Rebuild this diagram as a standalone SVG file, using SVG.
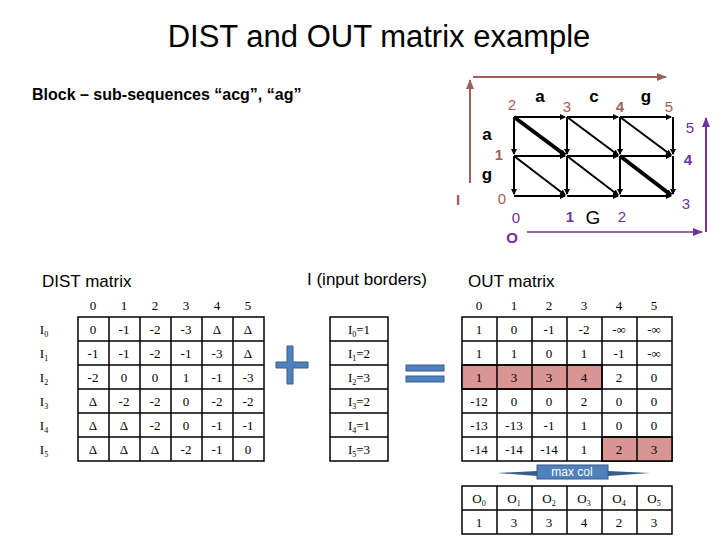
<svg xmlns="http://www.w3.org/2000/svg" width="720" height="540" viewBox="0 0 720 540">
<style>
.t{font-family:"Liberation Serif",serif;font-size:13px;text-anchor:middle}
.c{fill:#fff;stroke:#000;stroke-width:1.5}
.h{fill:#d99594;stroke:#000;stroke-width:1.5}
.g{stroke:#000;stroke-width:2;marker-end:url(#ah)}
.gb{stroke:#000;stroke-width:4;marker-end:url(#ah)}
.br{fill:#a0605a;font-family:"Liberation Sans",sans-serif;font-size:15px;text-anchor:middle}
.pu{fill:#7030a0;font-family:"Liberation Sans",sans-serif;font-size:15px;text-anchor:middle}
.lb{font-family:"Liberation Sans",sans-serif;font-weight:bold;font-size:17px;text-anchor:middle}
.hd{font-family:"Liberation Sans",sans-serif;font-size:17px}
</style>
<defs>
<marker id="ah" markerWidth="6" markerHeight="6" refX="5" refY="3" orient="auto" markerUnits="userSpaceOnUse" viewBox="0 0 6 6"><path d="M0,0L6,3L0,6z"/></marker>
<marker id="ab" markerWidth="10" markerHeight="8" refX="9" refY="4" orient="auto" markerUnits="userSpaceOnUse"><path d="M0,0L10,4L0,8z" fill="#a0605a"/></marker>
<marker id="ap" markerWidth="10" markerHeight="8" refX="9" refY="4" orient="auto" markerUnits="userSpaceOnUse"><path d="M0,0L10,4L0,8z" fill="#7030a0"/></marker>
</defs>
<rect width="720" height="540" fill="#fff"/>
<text x="379" y="47" font-family="Liberation Sans,sans-serif" font-size="31" text-anchor="middle">DIST and OUT matrix example</text>
<text x="32" y="100" font-family="Liberation Sans,sans-serif" font-size="16" font-weight="bold">Block – sub-sequences “acg”, “ag”</text>

<g id="grid">
<g id="connectors">
<line class="g" x1="514" y1="117" x2="565" y2="117"/><line class="g" x1="567" y1="117" x2="618" y2="117"/><line class="g" x1="620" y1="117" x2="671" y2="117"/>
<line class="g" x1="514" y1="156" x2="565" y2="156"/><line class="g" x1="567" y1="156" x2="618" y2="156"/><line class="g" x1="620" y1="156" x2="671" y2="156"/>
<line class="g" x1="514" y1="196" x2="565" y2="196"/><line class="g" x1="567" y1="196" x2="618" y2="196"/><line class="g" x1="620" y1="196" x2="671" y2="196"/>
<line class="g" x1="514" y1="117" x2="514" y2="154"/><line class="g" x1="567" y1="117" x2="567" y2="154"/><line class="g" x1="620" y1="117" x2="620" y2="154"/><line class="g" x1="673" y1="117" x2="673" y2="154"/>
<line class="g" x1="514" y1="156" x2="514" y2="194"/><line class="g" x1="567" y1="156" x2="567" y2="194"/><line class="g" x1="620" y1="156" x2="620" y2="194"/><line class="g" x1="673" y1="156" x2="673" y2="194"/>
<line class="gb" x1="514" y1="117" x2="565" y2="155"/><line class="g" x1="567" y1="117" x2="618" y2="155"/><line class="g" x1="620" y1="117" x2="671" y2="155"/>
<line class="g" x1="514" y1="156" x2="565" y2="195"/><line class="g" x1="567" y1="156" x2="618" y2="195"/><line class="gb" x1="620" y1="156" x2="671" y2="195"/>
<line stroke="#a0605a" stroke-width="2" marker-end="url(#ab)" x1="470" y1="183" x2="470" y2="80"/>
<line stroke="#a0605a" stroke-width="2" marker-end="url(#ab)" x1="473" y1="77" x2="666" y2="77"/>
<line stroke="#7030a0" stroke-width="1.5" marker-end="url(#ap)" x1="527" y1="232" x2="702" y2="232"/>
<line stroke="#7030a0" stroke-width="2" marker-end="url(#ap)" x1="706" y1="232" x2="706" y2="118"/>
</g>
<text class="lb" x="540" y="102">a</text><text class="lb" x="594" y="102">c</text><text class="lb" x="646" y="102">g</text>
<text class="lb" x="487" y="140">a</text><text class="lb" x="487" y="180">g</text>
<text class="br" x="512" y="110">2</text><text class="br" x="567" y="112">3</text><text class="br" x="620" y="112" font-weight="bold">4</text><text class="br" x="669" y="112">5</text>
<text class="br" x="499" y="160" font-weight="bold">1</text><text class="br" x="502" y="204">0</text>
<text class="br" x="458" y="205" font-size="20" font-weight="bold">I</text>
<text class="pu" x="516" y="223">0</text><text class="pu" x="570" y="222" font-weight="bold">1</text><text class="pu" x="622" y="222">2</text>
<text x="593" y="224" font-family="Liberation Sans,sans-serif" font-size="19" text-anchor="middle">G</text>
<text class="pu" x="512" y="243" font-size="18" font-weight="bold">O</text>
<text class="pu" x="690" y="133">5</text><text class="pu" x="688" y="165" font-weight="bold">4</text><text class="pu" x="686" y="209">3</text>
</g>

<text class="hd" x="42" y="287">DIST matrix</text>
<text class="hd" x="307" y="285" font-size="15">I (input borders)</text>
<text class="hd" x="468" y="287">OUT matrix</text>

<g id="dist">
<g class="t">
<text x="93" y="310">0</text><text x="124" y="310">1</text><text x="155" y="310">2</text><text x="186" y="310">3</text><text x="217" y="310">4</text><text x="248" y="310">5</text>
<text x="44" y="334">I<tspan font-size="8" dy="3">0</tspan></text>
<text x="44" y="358">I<tspan font-size="8" dy="3">1</tspan></text>
<text x="44" y="382">I<tspan font-size="8" dy="3">2</tspan></text>
<text x="44" y="406">I<tspan font-size="8" dy="3">3</tspan></text>
<text x="44" y="430">I<tspan font-size="8" dy="3">4</tspan></text>
<text x="44" y="454">I<tspan font-size="8" dy="3">5</tspan></text>
</g>
<rect class="c" x="78" y="317" width="186" height="144"/>
<path d="M109,317V461M140,317V461M171,317V461M202,317V461M233,317V461M78,341H264M78,365H264M78,389H264M78,413H264M78,437H264" stroke="#000" stroke-width="1.5"/>
<g class="t">
<text x="93" y="334">0</text><text x="124" y="334">-1</text><text x="155" y="334">-2</text><text x="186" y="334">-3</text><text x="217" y="334">Δ</text><text x="248" y="334">Δ</text>
<text x="93" y="358">-1</text><text x="124" y="358">-1</text><text x="155" y="358">-2</text><text x="186" y="358">-1</text><text x="217" y="358">-3</text><text x="248" y="358">Δ</text>
<text x="93" y="382">-2</text><text x="124" y="382">0</text><text x="155" y="382">0</text><text x="186" y="382">1</text><text x="217" y="382">-1</text><text x="248" y="382">-3</text>
<text x="93" y="406">Δ</text><text x="124" y="406">-2</text><text x="155" y="406">-2</text><text x="186" y="406">0</text><text x="217" y="406">-2</text><text x="248" y="406">-2</text>
<text x="93" y="430">Δ</text><text x="124" y="430">Δ</text><text x="155" y="430">-2</text><text x="186" y="430">0</text><text x="217" y="430">-1</text><text x="248" y="430">-1</text>
<text x="93" y="454">Δ</text><text x="124" y="454">Δ</text><text x="155" y="454">Δ</text><text x="186" y="454">-2</text><text x="217" y="454">-1</text><text x="248" y="454">0</text>
</g>
</g>

<g id="plus"><path d="M276,362h11v-16h6v16h15v6h-15v16h-6v-16h-11z" fill="#4f81bd" stroke="#385d8a"/></g>

<g id="ivec">
<rect class="c" x="330" y="317" width="58" height="144"/>
<path d="M330,341H388M330,365H388M330,389H388M330,413H388M330,437H388" stroke="#000" stroke-width="1.5"/>
<g class="t">
<text x="359" y="334">I<tspan font-size="8" dy="3">0</tspan><tspan dy="-3">=1</tspan></text>
<text x="359" y="358">I<tspan font-size="8" dy="3">1</tspan><tspan dy="-3">=2</tspan></text>
<text x="359" y="382">I<tspan font-size="8" dy="3">2</tspan><tspan dy="-3">=3</tspan></text>
<text x="359" y="406">I<tspan font-size="8" dy="3">3</tspan><tspan dy="-3">=2</tspan></text>
<text x="359" y="430">I<tspan font-size="8" dy="3">4</tspan><tspan dy="-3">=1</tspan></text>
<text x="359" y="454">I<tspan font-size="8" dy="3">5</tspan><tspan dy="-3">=3</tspan></text>
</g>
</g>

<g id="equals"><rect x="406" y="365" width="38" height="6" fill="#4f81bd" stroke="#385d8a"/><rect x="406" y="376" width="38" height="6" fill="#4f81bd" stroke="#385d8a"/></g>

<g id="out">
<g class="t">
<text x="479" y="310">0</text><text x="514" y="310">1</text><text x="549" y="310">2</text><text x="584" y="310">3</text><text x="619" y="310">4</text><text x="654" y="310">5</text>
</g>
<rect class="c" x="462" y="317" width="210" height="144"/>
<rect class="h" x="462" y="365" width="140" height="24"/>
<rect class="h" x="602" y="437" width="70" height="24"/>
<path d="M497,317V461M532,317V461M567,317V461M602,317V461M637,317V461M462,341H672M462,365H672M462,389H672M462,413H672M462,437H672" stroke="#000" stroke-width="1.5"/>
<g class="t">
<text x="479" y="334">1</text><text x="514" y="334">0</text><text x="549" y="334">-1</text><text x="584" y="334">-2</text><text x="619" y="334">-∞</text><text x="654" y="334">-∞</text>
<text x="479" y="358">1</text><text x="514" y="358">1</text><text x="549" y="358">0</text><text x="584" y="358">1</text><text x="619" y="358">-1</text><text x="654" y="358">-∞</text>
<text x="479" y="382">1</text><text x="514" y="382">3</text><text x="549" y="382">3</text><text x="584" y="382">4</text><text x="619" y="382">2</text><text x="654" y="382">0</text>
<text x="479" y="406">-12</text><text x="514" y="406">0</text><text x="549" y="406">0</text><text x="584" y="406">2</text><text x="619" y="406">0</text><text x="654" y="406">0</text>
<text x="479" y="430">-13</text><text x="514" y="430">-13</text><text x="549" y="430">-1</text><text x="584" y="430">1</text><text x="619" y="430">0</text><text x="654" y="430">0</text>
<text x="479" y="454">-14</text><text x="514" y="454">-14</text><text x="549" y="454">-14</text><text x="584" y="454">1</text><text x="619" y="454">2</text><text x="654" y="454">3</text>
</g>
</g>

<g id="maxcol">
<path d="M497,473L537,471L537,476z M650,473L608,471L608,476z" fill="#385d8a"/>
<rect x="537" y="465" width="71" height="14" fill="#4f81bd" stroke="#385d8a"/>
<text x="572" y="476" font-family="Liberation Sans,sans-serif" font-size="12" fill="#fff" text-anchor="middle">max col</text>
</g>

<g id="ovec">
<rect class="c" x="462" y="486" width="210" height="48"/>
<path d="M497,486V534M532,486V534M567,486V534M602,486V534M637,486V534M462,510H672" stroke="#000" stroke-width="1.5"/>
<g class="t">
<text x="479" y="503">O<tspan font-size="8" dy="3">0</tspan></text><text x="514" y="503">O<tspan font-size="8" dy="3">1</tspan></text><text x="549" y="503">O<tspan font-size="8" dy="3">2</tspan></text><text x="584" y="503">O<tspan font-size="8" dy="3">3</tspan></text><text x="619" y="503">O<tspan font-size="8" dy="3">4</tspan></text><text x="654" y="503">O<tspan font-size="8" dy="3">5</tspan></text>
<text x="479" y="527">1</text><text x="514" y="527">3</text><text x="549" y="527">3</text><text x="584" y="527">4</text><text x="619" y="527">2</text><text x="654" y="527">3</text>
</g>
</g>
</svg>
